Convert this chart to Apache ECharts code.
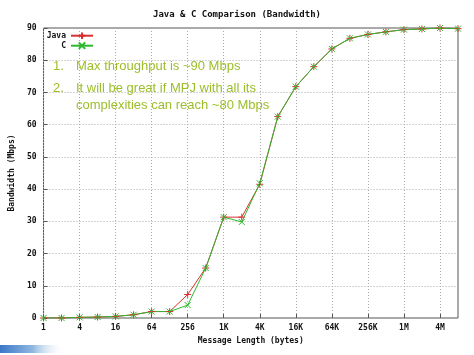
<!DOCTYPE html>
<html><head><meta charset="utf-8">
<script src="https://cdn.jsdelivr.net/npm/echarts@6/dist/echarts.min.js"></script>
<style>html,body{margin:0;padding:0;background:#fff}#c{width:474px;height:355px}</style>
</head><body><div id="c"></div>
<script>
const sizes = [1,2,4,8,16,32,64,128,256,512,1024,2048,4096,8192,16384,32768,65536,131072,262144,524288,1048576,2097152,4194304,8388608];
const javaBW = [0,0,0.2,0.3,0.5,1,2,2,7.3,15.5,31.3,31.3,41.5,62.5,71.8,78,83.5,86.8,88,88.8,89.5,89.7,90,89.8];
const cBW    = [0,0,0.2,0.3,0.5,1,2,2,4,15.5,31.3,29.8,41.8,62.5,71.8,78,83.5,86.8,88,88.8,89.5,89.7,90,89.8];
const xTickLabels = {1:'1',4:'4',16:'16',64:'64',256:'256',1024:'1K',4096:'4K',16384:'16K',65536:'64K',262144:'256K',1048576:'1M',4194304:'4M'};
const title = 'Java & C Comparison (Bandwidth)';
const notes = ['1.', 'Max throughput is ~90 Mbps', '2.', 'It will be great if MPJ with all its', 'complexities can reach ~80 Mbps'];

const plus = 'path://M5,0L5,10M0,5L10,5';
const cross = 'path://M0,0L10,10M10,0L0,10';
const mono = 'DejaVu Sans Mono';
const noteColor = '#9dbe2a';
const noteFont = '13px "Liberation Sans"';
const chart = echarts.init(document.getElementById('c'), null, {renderer:'canvas'});
chart.setOption({
  animation:false,
  backgroundColor:'#fff',
  title:{text:title,left:'center',top:5,textStyle:{fontFamily:mono,fontSize:9,fontWeight:'bold',color:'#111'}},
  grid:{left:39,right:16,top:28,bottom:37,show:true,borderColor:'#555',borderWidth:1},
  legend:[
    {data:['Java'],right:380,top:30,orient:'vertical',align:'right',itemWidth:22,itemHeight:8,itemGap:2,padding:0,
     textStyle:{fontFamily:mono,fontSize:8,fontWeight:'bold',color:'#111'}},
    {data:['C'],right:380,top:40,orient:'vertical',align:'right',itemWidth:22,itemHeight:8,itemGap:2,padding:0,
     textStyle:{fontFamily:mono,fontSize:8,fontWeight:'bold',color:'#111'}}
  ],
  xAxis:{type:'log',logBase:2,min:1,max:8388608,interval:2,
    name:'Message Length (bytes)',nameLocation:'middle',nameGap:19,
    nameTextStyle:{fontFamily:mono,fontSize:8,fontWeight:'bold',color:'#111'},
    axisLine:{show:false},
    axisTick:{show:true,inside:true,length:4,lineStyle:{color:'#555'}},
    axisLabel:{fontFamily:mono,fontSize:8,fontWeight:'bold',color:'#111',margin:6,showMaxLabel:false,
      formatter:v=>{const k=Math.round(v);return xTickLabels[k]!==undefined?xTickLabels[k]:'';}},
    splitLine:{show:true,lineStyle:{color:'#aaa',type:[1,2],width:1}}
  },
  yAxis:{type:'value',min:0,max:90,interval:10,
    name:'Bandwidth (Mbps)',nameLocation:'middle',nameGap:27,nameRotate:90,
    nameTextStyle:{fontFamily:mono,fontSize:8,fontWeight:'bold',color:'#111'},
    axisLine:{show:false},
    axisTick:{show:true,inside:true,length:4,lineStyle:{color:'#555'}},
    axisLabel:{fontFamily:mono,fontSize:8,fontWeight:'bold',color:'#111',margin:7},
    splitLine:{show:true,lineStyle:{color:'#aaa',type:[1,2],width:1}}
  },
  series:[
    {name:'Java',type:'line',data:sizes.map((s,i)=>[s,javaBW[i]]),color:'#d83030',
     lineStyle:{width:1,color:'#d83030'},symbol:plus,symbolSize:7,
     itemStyle:{color:'none',borderColor:'#d83030',borderWidth:1}},
    {name:'C',type:'line',data:sizes.map((s,i)=>[s,cBW[i]]),color:'#2eb82e',
     lineStyle:{width:1,color:'#2eb82e'},symbol:cross,symbolSize:6,
     itemStyle:{color:'none',borderColor:'#2eb82e',borderWidth:1}}
  ],
  graphic:[
    {type:'rect',left:0,top:345,shape:{width:65,height:8},
     style:{fill:new echarts.graphic.LinearGradient(0,0,1,0,[{offset:0,color:'#3a78c8'},{offset:0.5,color:'#8fb6e0'},{offset:1,color:'rgba(255,255,255,0)'}])},z:-1},
    {type:'text',left:53,top:60,style:{text:notes[0],fill:noteColor,font:noteFont}},
    {type:'text',left:76,top:60,style:{text:notes[1],fill:noteColor,font:noteFont}},
    {type:'text',left:53,top:82,style:{text:notes[2],fill:noteColor,font:noteFont}},
    {type:'text',left:76,top:82,style:{text:notes[3],fill:noteColor,font:noteFont}},
    {type:'text',left:76,top:99,style:{text:notes[4],fill:noteColor,font:noteFont}}
  ]
});
</script></body></html>
